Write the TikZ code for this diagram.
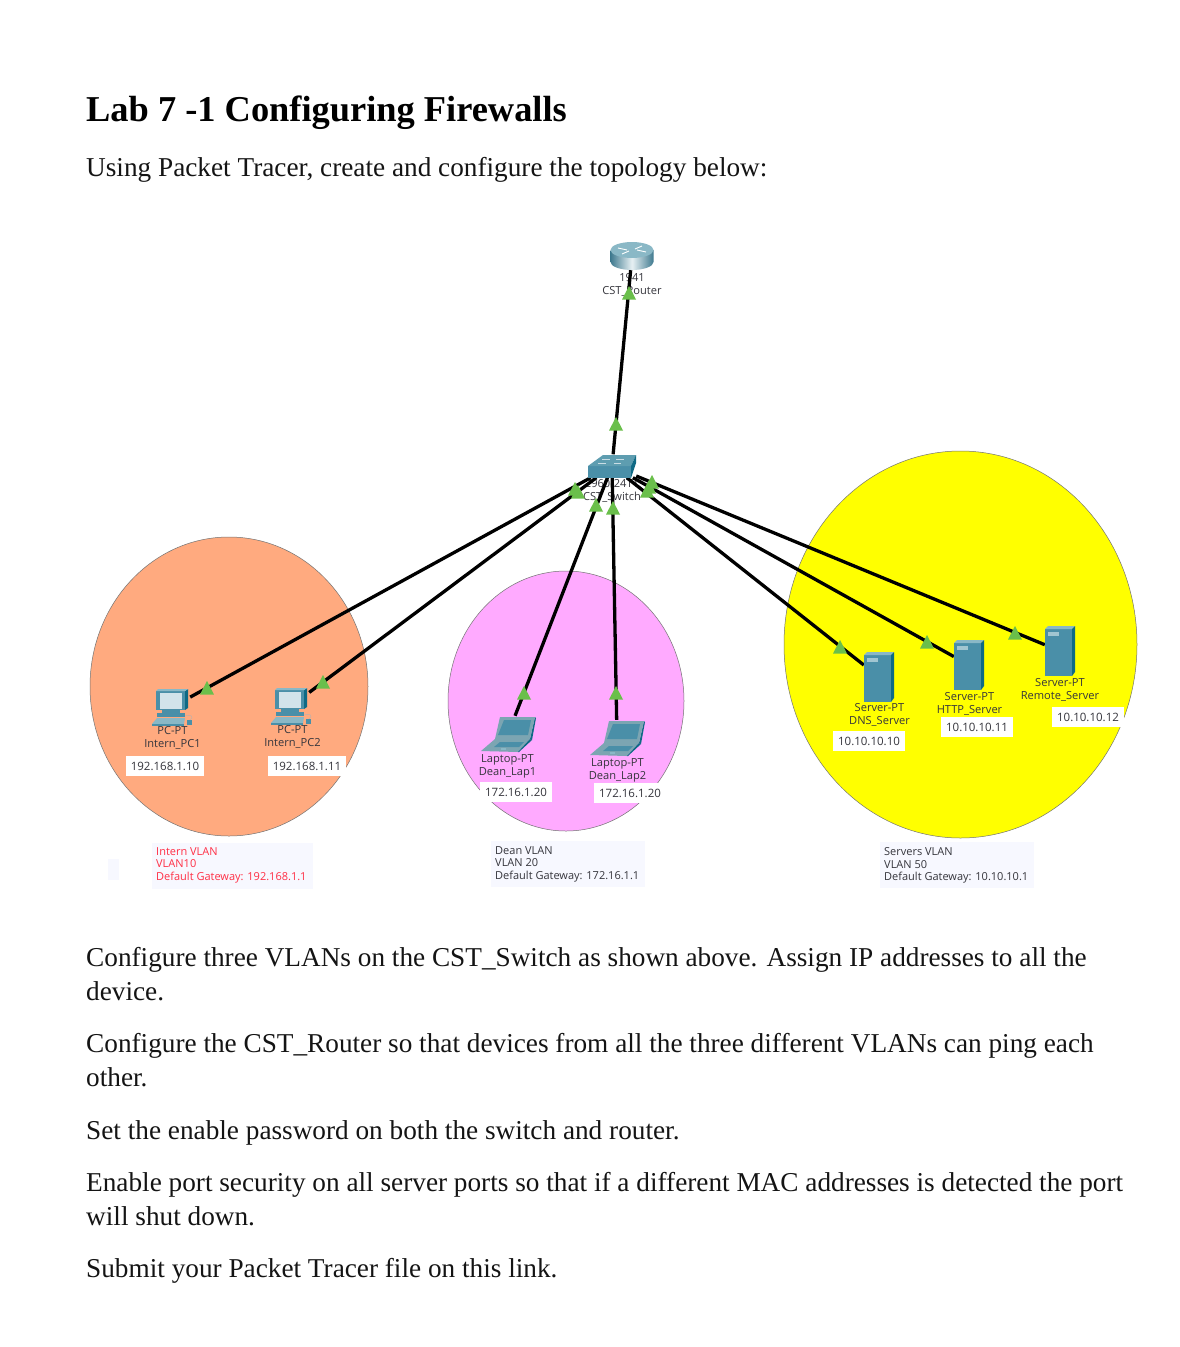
\documentclass[tikz,border=0pt]{standalone}
\usepackage{fontspec}
\setmainfont{Liberation Serif}
\newfontfamily\lab{Open Sans}
\definecolor{tealF}{HTML}{4A8FA8}
\definecolor{tealT}{HTML}{8AB8C6}
\definecolor{tealD}{HTML}{0F6A85}
\definecolor{tealM}{HTML}{5E9DB0}
\definecolor{screenc}{HTML}{D2E3EA}
\definecolor{tri}{HTML}{6ABF4B}
\definecolor{pale}{HTML}{F7F8FF}
\definecolor{labc}{HTML}{35353C}
\definecolor{redc}{HTML}{FF2F45}
\definecolor{zoneO}{HTML}{FFAA7F}
\definecolor{zoneP}{HTML}{FFAAFF}
\definecolor{zoneY}{HTML}{FFFF00}
\tikzset{
  x=1pt,y=-1pt,
  zone/.style={draw=black!55,line width=.5pt},
  body/.style={anchor=base west,inner sep=0,font=\fontsize{27.25}{27.25}\selectfont,text=black!92},
  devlabel/.style={inner sep=0,font=\lab\fontsize{11.1}{13}\selectfont,text=labc,align=center},
  ipbox/.style={fill=white,inner sep=0,minimum width=72,minimum height=20,font=\lab\fontsize{11.5}{11.5}\selectfont,text=labc},
  vlantext/.style={anchor=west,inner sep=0,font=\lab\fontsize{11}{12.6}\selectfont,align=left,text=labc},
  dev/.style={inner sep=0,minimum width=#1},
  link/.style={line width=3.3pt,black},
  serverpic/.pic={
    \fill[tealF] (-15,-22) rectangle (12,25);
    \fill[tealT] (-15,-22) -- (-12,-25) -- (15,-25) -- (12,-22) -- cycle;
    \fill[tealD] (12,-22) -- (15,-25) -- (15,21) -- (12,25) -- cycle;
    \fill[tealT!80!white] (-12,-19) rectangle (-1,-15.5);
  },
  pcpic/.pic={
    \fill[tealD] (13,-16) -- (16,-18) -- (16,1) -- (13,3) -- cycle;
    \fill[tealF] (-16,-16) rectangle (13,3);
    \fill[tealT] (-16,-16) -- (-14,-18) -- (16,-18) -- (13,-16) -- cycle;
    \fill[screenc] (-12.5,-14) rectangle (10,1.5);
    \fill[tealF] (-10,3) rectangle (8,6);
    \fill[tealF] (-15,6) rectangle (13,10);
    \fill[tealT] (-20,17) -- (-15,11) -- (13,11) -- (12,17) -- cycle;
    \fill[tealF] (-20,17) rectangle (12,18.5);
    \fill[tealF] (15,13) rectangle (20,17.5);
    \draw[black!30,line width=.4pt] (13,9) .. controls (20,7) and (22,10) .. (18,13);
  },
  laptoppic/.pic={
    \fill[tealD] (27,-17) -- (28,-16) -- (24,6) -- (22,5) -- cycle;
    \fill[tealT!90!black] (-8,-17) -- (27,-17) -- (22,5) -- (-13,5) -- cycle;
    \fill[tealF] (-4,-14) -- (23,-14) -- (20,1) -- (-10,1) -- cycle;
    \fill[tealT!90!black] (-13,5) -- (22,5) -- (10,18) -- (-27,17) -- cycle;
    \fill[tealD] (22,5) -- (24,6) -- (11,18) -- (10,18) -- cycle;
    \fill[tealF] (-8,8) -- (16,8) -- (11,13) -- (-14,13) -- cycle;
    \fill[tealT] (-7,14) rectangle (-2,16);
  },
  switchpic/.pic={
    \fill[tealF] (-24,0) rectangle (19,12);
    \fill[tealM] (-24,0) -- (-9,-11) -- (24,-11) -- (19,0) -- cycle;
    \fill[tealD] (19,0) -- (24,-11) -- (24,-3) -- (19,12) -- cycle;
    \draw[white!70!tealF,line width=.7pt] (-10,-7) -- (-2,-7) (4,-7) -- (12,-7) (-14,-3) -- (-6,-3) (2,-3) -- (9,-3);
  },
  routerpic/.pic={
    \shade[left color=tealF!85!black,right color=tealF!85!black,middle color=tealT!20!white]
      (-21.5,-6) -- (-21.5,6) arc[start angle=180,end angle=0,x radius=21.5,y radius=8] -- (21.5,-6) -- cycle;
    \fill[tealT] (0,-6) ellipse[x radius=21.5,y radius=8];
    \draw[white,line width=.9pt] (-14,-8) -- (-5,-6) (14,-4) -- (5,-6) (-10,-2) -- (-3,-5) (10,-10) -- (3,-7);
  },
}
\newcommand{\porttri}[2]{\fill[tri] (#1-7,#2+6.5) -- (#1,#2-7) -- (#1+7,#2+6.5) -- cycle;}
\begin{document}
\begin{tikzpicture}[x=1pt,y=-1pt]
\useasboundingbox (0,0) rectangle (1179,1347);
\fill[white] (0,0) rectangle (1179,1347);

% page text
\node[body,font=\bfseries\fontsize{36.4}{36.4}\selectfont,text=black] (title) at (86,121) {Lab 7 -1 Configuring Firewalls};
\node[body] (intro) at (86,176) {Using Packet Tracer, create and configure the topology below:};
\node[body] (p1a) at (86,966) {Configure three VLANs on the CST\_Switch as shown above. Assign IP addresses to all the};
\node[body] (p1b) at (86,1000) {device.};
\node[body] (p2a) at (86,1052) {Configure the CST\_Router so that devices from all the three different VLANs can ping each};
\node[body] (p2b) at (86,1086.5) {other.};
\node[body] (p3) at (86,1139) {Set the enable password on both the switch and router.};
\node[body] (p4a) at (86,1191) {Enable port security on all server ports so that if a different MAC addresses is detected the port};
\node[body] (p4b) at (86,1225) {will shut down.};
\node[body] (p5) at (86,1277) {Submit your Packet Tracer file on this link.};

% VLAN zones
\draw[zone,fill=zoneO] (229,686.5) ellipse[x radius=139,y radius=149.5];
\draw[zone,fill=zoneP] (566,701) ellipse[x radius=118,y radius=130];
\draw[zone,fill=zoneY] (960.5,644.5) ellipse[x radius=176.5,y radius=193.5];

% VLAN captions
\fill[pale] (108,859) rectangle (119,880);
\fill[pale] (152,842.5) rectangle (313,889);
\fill[pale] (491,841) rectangle (645,887);
\fill[pale] (880,842) rectangle (1034,888);
\node[vlantext,text=redc] (vi) at (156,865) {Intern VLAN\\VLAN10\\Default Gateway: 192.168.1.1};
\node[vlantext] (vd) at (495,864) {Dean VLAN\\VLAN 20\\Default Gateway: 172.16.1.1};
\node[vlantext] (vs) at (884,865.5) {Servers VLAN\\VLAN 50\\Default Gateway: 10.10.10.1};

% device labels (the links run over them)
\node[devlabel] (lr) at (632,285) {1941\\CST\_Router};
\node[devlabel] (ls) at (612,490.5) {2960-24TT\\CST\_Switch};
\node[devlabel] (lp1) at (172.5,738) {PC-PT\\Intern\_PC1};
\node[devlabel] (lp2) at (292.5,737) {PC-PT\\Intern\_PC2};
\node[devlabel] (ll1) at (507.5,766) {Laptop-PT\\Dean\_Lap1};
\node[devlabel] (ll2) at (617.5,770) {Laptop-PT\\Dean\_Lap2};
\node[devlabel] (ld) at (879.5,715) {Server-PT\\DNS\_Server};
\node[devlabel] (lh) at (969.5,704) {Server-PT\\HTTP\_Server};
\node[devlabel] (lm) at (1060,690) {Server-PT\\Remote\_Server};

% address tags
\node[ipbox,minimum width=78] (i1) at (165,766) {192.168.1.10};
\node[ipbox,minimum width=78] (i2) at (307,766) {192.168.1.11};
\node[ipbox] (i3) at (516,792) {172.16.1.20};
\node[ipbox] (i4) at (630,793) {172.16.1.20};
\node[ipbox] (i5) at (869,741) {10.10.10.10};
\node[ipbox] (i6) at (977,727) {10.10.10.11};
\node[ipbox] (i7) at (1088,717) {10.10.10.12};

% devices
\node[dev=43,minimum height=28] (router) at (632,256) {};
\node[dev=48,minimum height=23] (switch) at (612,466) {};
\node[dev=36,minimum height=36] (pc1) at (172,707) {};
\node[dev=36,minimum height=36] (pc2) at (291,706) {};
\node[dev=50,minimum height=36] (lap1) at (508,734) {};
\node[dev=50,minimum height=36] (lap2) at (617,738) {};
\node[dev=30,minimum height=50] (dns) at (879,677) {};
\node[dev=30,minimum height=50] (http) at (969,665) {};
\node[dev=30,minimum height=50] (remote) at (1060,651) {};

% links
\draw[link] (router) -- (switch);
\draw[link] (switch) -- (pc1);
\draw[link] (switch) -- (pc2);
\draw[link] (switch) -- (lap1);
\draw[link] (switch) -- (lap2);
\draw[link] (switch) -- (dns);
\draw[link] (switch) -- (http);
\draw[link] (switch) -- (remote);

% icons
\pic at (router) {routerpic};
\pic at (switch) {switchpic};
\pic at (pc1) {pcpic};
\pic at (pc2) {pcpic};
\pic at (lap1) {laptoppic};
\pic at (lap2) {laptoppic};
\pic at (dns) {serverpic};
\pic at (http) {serverpic};
\pic at (remote) {serverpic};

% link lights
\porttri{629}{293}
\porttri{616}{424}
\porttri{575}{489}
\porttri{578}{492}
\porttri{596}{505}
\porttri{613}{508}
\porttri{652}{482}
\porttri{649}{487}
\porttri{647}{491}
\porttri{207}{688}
\porttri{323}{682}
\porttri{524}{693}
\porttri{616}{693}
\porttri{840}{647}
\porttri{927}{642}
\porttri{1015}{633}
\end{tikzpicture}
\end{document}
